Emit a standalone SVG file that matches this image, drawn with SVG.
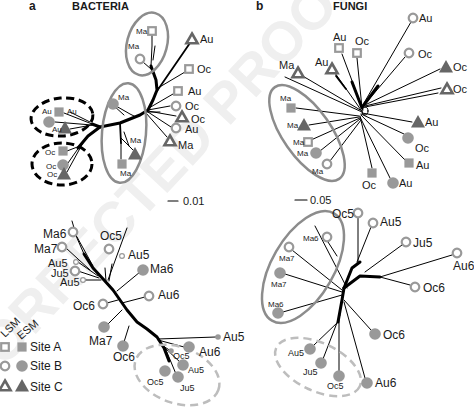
<svg xmlns="http://www.w3.org/2000/svg" xmlns:xlink="http://www.w3.org/1999/xlink" width="474" height="409" viewBox="0 0 474 409">
<style>
text{font-family:"Liberation Sans",Arial,sans-serif;fill:#1a1a1a}
.lb{font-size:11px}
.lm{font-size:12px}
.ls{font-size:11px}
.sm{font-size:8px}
.hd{font-size:11px;font-weight:bold}
.t{fill:none;stroke:#000;stroke-width:1;stroke-linecap:round;stroke-linejoin:round}
.k{fill:none;stroke:#000;stroke-width:3;stroke-linecap:round;stroke-linejoin:round}
.m{fill:none;stroke:#000;stroke-width:1.8;stroke-linecap:round}
.ell{fill:none;stroke:#8c8c8c;stroke-width:2.5}
.dk{fill:none;stroke:#000;stroke-width:3;stroke-dasharray:8 4.5}
.dg{fill:none;stroke:#bdbdbd;stroke-width:2.5;stroke-dasharray:8 5}
.wm{font-family:"Liberation Sans",Arial,sans-serif;font-weight:bold;font-size:56px;fill:#efefef}
</style>
<defs>
<rect id="sqO" x="-3.8" y="-3.8" width="7.6" height="7.6" fill="#fff" stroke="#999" stroke-width="2.2"/>
<rect id="sqF" x="-4.6" y="-4.6" width="9.2" height="9.2" fill="#999"/>
<circle id="ciO" r="4.3" fill="#fff" stroke="#999" stroke-width="2.2"/>
<circle id="ciF" r="5.8" fill="#999"/>
<circle id="csO" r="2.4" fill="#fff" stroke="#999" stroke-width="1.2"/>
<circle id="csF" r="2.8" fill="#999"/>
<polygon id="trO" points="0,-5.5 5.6,4.3 -5.6,4.3" fill="#fff" stroke="#666" stroke-width="2.6" stroke-linejoin="miter"/>
<polygon id="trF" points="0,-7 7,5.5 -7,5.5" fill="#666"/>
</defs>

<text class="wm" transform="translate(170,190) rotate(-47)" text-anchor="middle">CORRECTED PROOF</text>

<text class="hd" x="29" y="10" style="font-size:12px">a</text>
<text class="hd" x="72" y="10">BACTERIA</text>
<text class="hd" x="256" y="10" style="font-size:12px">b</text>
<text class="hd" x="333" y="10">FUNGI</text>

<g id="connectors">
<!-- panel a -->
<path class="k" d="M151,66 L156,80 L157,90 L153,100 L148,110 L140,115 L120,123 L100,127 L92,124"/>
<path class="k" d="M100,127 L88,136 L78,148"/>
<path class="t" d="M152,34 L152,46 L151,66"/>
<path class="t" d="M155,46 L153,60"/>
<path class="t" d="M143,62 L151,69"/>
<path class="m" d="M190,43 L157,91"/>
<path class="t" d="M185,72 L158,88"/>
<path class="t" d="M173,94 L149,108"/>
<path class="t" d="M170,106 L148,110"/>
<path class="t" d="M176,116 L148,111"/>
<path class="t" d="M171,127 L148,112"/>
<path class="t" d="M167,137 L146,113"/>
<path class="t" d="M160,112 L147,112"/>
<path class="t" d="M116,106 L130,114 L136,117"/>
<path class="t" d="M113,105 L124,115"/>
<path class="m" d="M120,123 L121,143"/>
<path class="t" d="M121,143 L121,159"/>
<path class="t" d="M121,138 L133,150"/>
<path class="t" d="M124,132 L129,146"/>
<path class="t" d="M64,113 L92,124"/>
<path class="t" d="M70,112 L90,122"/>
<path class="t" d="M55,122 L92,125"/>
<path class="t" d="M70,129 L92,125"/>
<path class="t" d="M67,151 L80,146"/>
<path class="t" d="M68,163 L82,143"/>
<path class="t" d="M67,172 L84,141"/>
<line class="t" x1="168" y1="201" x2="178" y2="201" style="stroke-width:1.2"/>
<!-- panel b -->
<path class="t" d="M364,103 L411,22"/>
<path class="t" d="M365,104 L405,57"/>
<path class="t" d="M365,105 L440,69"/>
<path class="t" d="M365,106 L441,88"/>
<path class="t" d="M365,107 L438,93"/>
<path class="k" d="M363,106 L378,86"/>
<path class="t" d="M362,113 L412,122"/>
<path class="t" d="M361,114 L404,134"/>
<path class="t" d="M361,115 L405,160"/>
<path class="t" d="M360,116 L372,168"/>
<path class="t" d="M360,117 L390,178"/>
<path class="t" d="M342,54 L363,110"/>
<path class="t" d="M357,58 L362,108"/>
<path class="k" d="M362,108 L352,82"/>
<path class="t" d="M335,73 L361,110"/>
<path class="m" d="M336,76 L346,89"/>
<path class="t" d="M301,75 L362,111"/>
<path class="t" d="M285,77 L362,112"/>
<path class="t" d="M296,108 L359,116"/>
<path class="t" d="M309,125 L359,117"/>
<path class="t" d="M311,140 L360,118"/>
<path class="t" d="M320,151 L360,119"/>
<path class="t" d="M330,161 L361,120"/>
<ellipse cx="365" cy="111" rx="3" ry="4" class="t"/>
<line class="t" x1="295" y1="200" x2="307" y2="200" style="stroke-width:1.2"/>
<!-- bottom left -->
<path class="t" d="M72,221 L77,238 L84,254"/>
<path class="k" d="M84,254 L93,268 L104,280 L113,290 L120,300 L127,310 L137,322 L147,329 L157,337 L164,348 L169,361"/>
<path class="t" d="M66,248 L90,270"/>
<path class="t" d="M77,237 L93,266"/>
<path class="t" d="M78,262 L98,276"/>
<path class="t" d="M78,271 L99,278"/>
<path class="t" d="M85,280 L101,280"/>
<path class="t" d="M127,228 L108,280"/>
<path class="t" d="M105,268 L106,281"/>
<path class="t" d="M112,264 L109,281"/>
<path class="t" d="M140,272 L117,291"/>
<path class="t" d="M145,297 L122,303"/>
<path class="t" d="M107,303 L118,300"/>
<path class="t" d="M107,325 L122,310"/>
<path class="t" d="M124,342 L129,326"/>
<path class="t" d="M158,339 L216,337"/>
<path class="t" d="M158,340 L184,347"/>
<path class="t" d="M163,346 L171,351"/>
<path class="t" d="M165,348 L181,363"/>
<path class="t" d="M166,350 L176,374"/>
<!-- bottom right -->
<path class="k" d="M344,288 L352,268 L360,262"/>
<path class="t" d="M358,218 L358,262"/>
<path class="t" d="M371,227 L357,262"/>
<path class="t" d="M402,245 L365,272"/>
<path class="k" d="M344,288 L360,276 L380,277"/>
<path class="t" d="M380,277 L452,255"/>
<path class="t" d="M380,277 L410,285"/>
<path class="t" d="M315,226 L347,288"/>
<path class="t" d="M328,242 L337,256"/>
<path class="t" d="M292,250 L342,290"/>
<path class="t" d="M285,274 L342,292"/>
<path class="t" d="M283,312 L342,295"/>
<path class="t" d="M344,300 L371,330"/>
<path class="k" d="M344,288 L342,300 L338,322"/>
<path class="t" d="M338,322 L313,346"/>
<path class="t" d="M340,315 L323,359"/>
<path class="t" d="M339,320 L339,371"/>
<path class="t" d="M344,302 L365,378"/>
</g>

<g id="ellipses">
<ellipse class="ell" cx="147" cy="44" rx="20" ry="32" transform="rotate(15 147 44)"/>
<ellipse class="ell" cx="124" cy="133" rx="22" ry="50" transform="rotate(5 124 133)"/>
<ellipse class="dk" cx="62" cy="117" rx="31" ry="19" transform="rotate(-5 62 117)"/>
<ellipse class="dk" cx="62" cy="164" rx="30" ry="21"/>
<ellipse class="ell" cx="307" cy="133" rx="24" ry="56" transform="rotate(-35 307 133)"/>
<ellipse class="ell" cx="303" cy="267" rx="31" ry="62" transform="rotate(30 303 267)"/>
<ellipse class="dg" cx="318" cy="367" rx="46" ry="24" transform="rotate(25 318 367)"/>
<ellipse class="dg" cx="177" cy="375" rx="44" ry="28" transform="rotate(20 177 375)"/>
</g>

<g id="panel-a-nodes">
<g id="a1"><use href="#sqO" x="152" y="31"/><text class="sm" x="136" y="34">Ma</text></g>
<g id="a2"><use href="#ciO" x="140" y="59"/><text class="sm" x="128" y="49">Ma</text></g>
<g id="a3"><use href="#trO" x="192" y="39"/><text class="lb" x="200" y="43">Au</text></g>
<g id="a4"><use href="#sqO" x="189" y="69"/><text class="lb" x="197" y="73">Oc</text></g>
<g id="a5"><use href="#sqO" x="178" y="91"/><text class="lb" x="188" y="95">Au</text></g>
<g id="a6"><use href="#ciO" x="176" y="106"/><text class="lb" x="185" y="110">Oc</text></g>
<g id="a7"><use href="#trO" x="182" y="117"/><text class="lb" x="191" y="123">Oc</text></g>
<g id="a8"><use href="#ciO" x="176" y="128"/><text class="lb" x="185" y="133">Au</text></g>
<g id="a9"><use href="#trO" x="170" y="141"/><text class="lb" x="178" y="149">Ma</text></g>
<g id="a10"><use href="#ciF" x="113" y="104"/><text class="sm" x="118" y="100">Ma</text></g>
<g id="a11"><use href="#trF" x="135" y="154"/><text class="sm" x="130" y="143">Ma</text></g>
<g id="a12"><use href="#sqF" x="122" y="164"/><text class="sm" x="120" y="176">Ma</text></g>
<g id="a13"><use href="#sqF" x="59" y="112"/><text class="sm" x="42" y="114">Au</text><text class="sm" x="67" y="114">Au</text></g>
<g id="a14"><use href="#ciF" x="49" y="122"/></g>
<g id="a15"><use href="#trF" x="65" y="128"/><text class="sm" x="52" y="132">Au</text></g>
<g id="a16"><use href="#sqF" x="63" y="151"/><text class="sm" x="45" y="155">Oc</text></g>
<g id="a17"><use href="#ciF" x="63" y="165"/><text class="sm" x="46" y="169">Oc</text></g>
<g id="a18"><use href="#trF" x="64" y="174"/><text class="sm" x="47" y="177">Oc</text></g>
<text class="lb" x="183" y="205">0.01</text>
</g>

<g id="panel-b-nodes">
<g id="b1"><use href="#ciO" x="413" y="18"/><text class="lb" x="419" y="22">Au</text></g>
<g id="b2"><use href="#ciO" x="409" y="53"/><text class="lb" x="418" y="58">Oc</text></g>
<g id="b3"><use href="#trF" x="446" y="67"/><text class="lb" x="453" y="71">Oc</text></g>
<g id="b4"><use href="#trO" x="447" y="89"/><text class="lb" x="453" y="93">Oc</text></g>
<g id="b5"><use href="#trF" x="418" y="122"/><text class="lb" x="425" y="126">Au</text></g>
<g id="b6"><use href="#ciF" x="408" y="138"/><text class="lb" x="415" y="152">Oc</text></g>
<g id="b7"><use href="#sqF" x="409" y="163"/><text class="lb" x="416" y="169">Au</text></g>
<g id="b8"><use href="#sqF" x="372" y="173"/><text class="lb" x="362" y="189">Oc</text></g>
<g id="b9"><use href="#ciF" x="393" y="183"/><text class="lb" x="399" y="187">Au</text></g>
<g id="b10"><use href="#sqO" x="339" y="48"/><text class="lb" x="333" y="41">Au</text></g>
<g id="b11"><use href="#sqO" x="357" y="53"/><text class="lb" x="355" y="45">Oc</text></g>
<g id="b12"><use href="#trO" x="332" y="69"/><text class="lb" x="315" y="66">Au</text></g>
<g id="b13"><use href="#trO" x="298" y="73"/><text class="lb" x="279" y="69">Ma</text></g>
<g id="b14"><use href="#sqF" x="291" y="108"/><text class="sm" x="280" y="101">Ma</text></g>
<g id="b15"><use href="#trF" x="304" y="125"/><text class="sm" x="287" y="128">Ma</text></g>
<g id="b16"><use href="#sqO" x="308" y="142"/><text class="sm" x="293" y="145">Ma</text></g>
<g id="b17"><use href="#ciF" x="316" y="153"/><text class="sm" x="297" y="156">Ma</text></g>
<g id="b18"><use href="#ciO" x="327" y="164"/><text class="sm" x="312" y="174">Ma</text></g>
<text class="lb" x="310" y="204">0.05</text>
</g>

<g id="panel-c-nodes">
<g id="c1"><use href="#ciO" x="73" y="232"/><text class="lm" x="43" y="238">Ma6</text></g>
<g id="c2"><use href="#ciO" x="62" y="247"/><text class="lm" x="34" y="253">Ma7</text></g>
<g id="c3"><use href="#csO" x="76" y="262"/><text class="ls" x="48" y="267">Au5</text></g>
<g id="c4"><use href="#ciO" x="75" y="271"/><text class="ls" x="51" y="276.5">Ju5</text></g>
<g id="c5"><use href="#csO" x="83" y="280"/><text class="ls" x="60" y="286">Au5</text></g>
<g id="c6"><use href="#ciO" x="109" y="249"/><text class="lm" x="100" y="240">Oc5</text></g>
<g id="c7"><use href="#csO" x="122" y="256"/><text class="lm" x="128" y="259">Au5</text></g>
<g id="c8"><use href="#ciF" x="143" y="270"/><text class="lm" x="150" y="273">Ma6</text></g>
<g id="c9"><use href="#ciO" x="149" y="296"/><text class="lm" x="158" y="299">Au6</text></g>
<g id="c10"><use href="#ciO" x="103" y="304"/><text class="lm" x="73" y="310">Oc6</text></g>
<g id="c11"><use href="#ciF" x="104" y="327"/><text class="lm" x="89" y="345">Ma7</text></g>
<g id="c12"><use href="#ciF" x="123" y="346"/><text class="lm" x="113" y="361">Oc6</text></g>
<g id="c13"><use href="#csF" x="218" y="337"/><text class="lm" x="223" y="341">Au5</text></g>
<g id="c14"><use href="#ciF" x="189" y="347"/><text class="lm" x="199" y="356">Au6</text></g>
<g id="c15"><use href="#csF" x="171" y="351"/><text class="sm" x="173" y="359" style="font-size:9px">Oc5</text></g>
<g id="c16"><use href="#ciF" x="183" y="365"/><text class="sm" x="188" y="373" style="font-size:9px">Au5</text></g>
<g id="c17"><use href="#ciF" x="165" y="371"/><text class="sm" x="147" y="385" style="font-size:9px">Oc5</text></g>
<g id="c18"><use href="#ciF" x="178" y="377"/><text class="sm" x="180" y="391" style="font-size:9px">Ju5</text></g>
</g>

<g id="panel-d-nodes">
<g id="d1"><use href="#ciO" x="358" y="213"/><text class="lm" x="332" y="218">Oc5</text></g>
<g id="d2"><use href="#ciO" x="373" y="223"/><text class="lm" x="380" y="226">Au5</text></g>
<g id="d3"><use href="#ciO" x="406" y="242"/><text class="lm" x="413" y="247">Ju5</text></g>
<g id="d4"><use href="#ciO" x="457" y="253"/><text class="lm" x="453" y="270">Au6</text></g>
<g id="d5"><use href="#ciO" x="415" y="287"/><text class="lm" x="423" y="292">Oc6</text></g>
<g id="d6"><use href="#ciF" x="375" y="334"/><text class="lm" x="383" y="339">Oc6</text></g>
<g id="d7"><use href="#ciF" x="367" y="383"/><text class="lm" x="375" y="387">Au6</text></g>
<g id="d8"><use href="#ciF" x="310" y="349"/><text class="sm" x="288" y="356" style="font-size:9px">Au5</text></g>
<g id="d9"><use href="#ciF" x="321" y="363"/><text class="sm" x="303" y="375" style="font-size:9px">Ju5</text></g>
<g id="d10"><use href="#ciF" x="339" y="376"/><text class="sm" x="327" y="389" style="font-size:9px">Oc5</text></g>
<g id="d11"><use href="#ciO" x="327" y="237"/><text class="sm" x="303" y="241">Ma6</text></g>
<g id="d12"><use href="#ciO" x="289" y="247"/><text class="sm" x="279" y="261">Ma7</text></g>
<g id="d13"><use href="#ciF" x="280" y="273"/><text class="sm" x="271" y="287">Ma7</text></g>
<g id="d14"><use href="#ciF" x="278" y="313"/><text class="sm" x="268" y="307">Ma6</text></g>
</g>

<g id="legend">
<text class="lb" transform="translate(5,338) rotate(-45)">LSM</text>
<text class="lb" transform="translate(21,340) rotate(-40)">ESM</text>
<use href="#sqO" x="5" y="347"/><use href="#sqF" x="22" y="347"/><text class="lm" x="30" y="351">Site A</text>
<use href="#ciO" x="5" y="366"/><use href="#ciF" x="22" y="366"/><text class="lm" x="30" y="370">Site B</text>
<use href="#trO" x="5" y="386"/><use href="#trF" x="22" y="386"/><text class="lm" x="30" y="391">Site C</text>
</g>
</svg>
